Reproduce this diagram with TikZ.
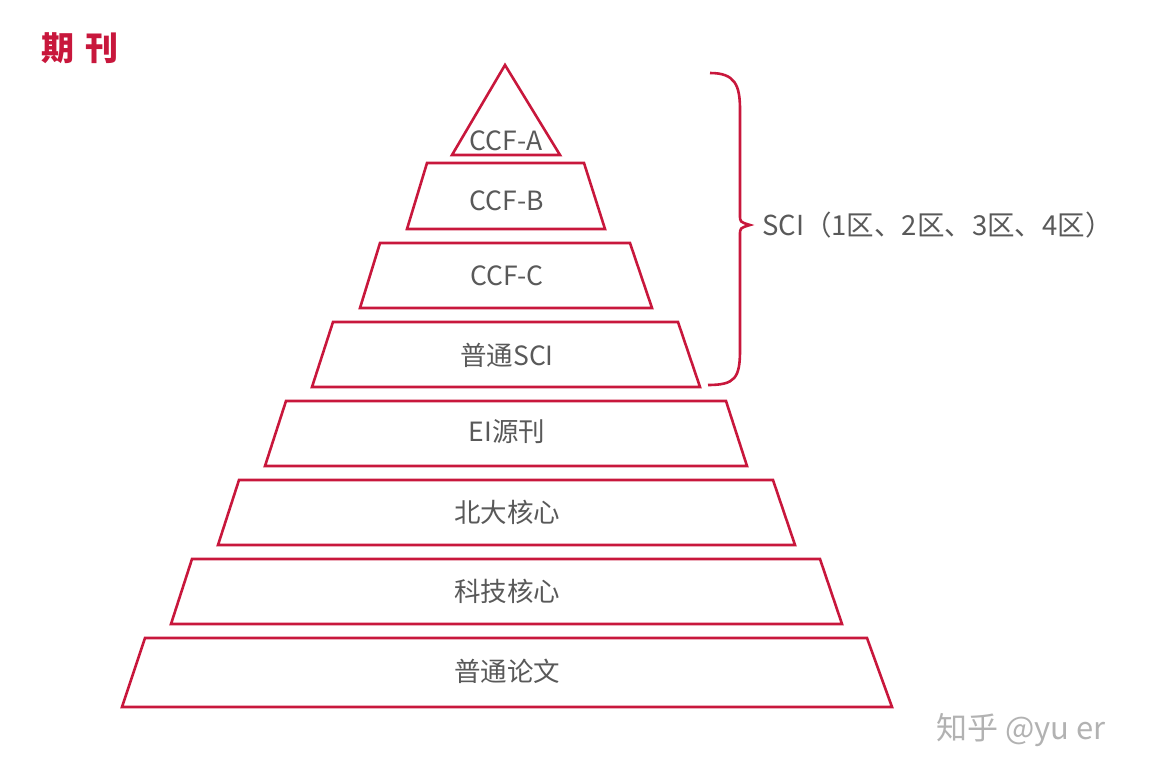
\documentclass[tikz,border=0pt]{standalone}
\usepackage{fontspec}
\setmainfont{Noto Sans CJK SC}
\definecolor{cr}{HTML}{C8173C}
\definecolor{tg}{HTML}{595959}
\begin{document}
\begin{tikzpicture}[x=1pt,y=-1pt,
  lvl/.style={draw=cr,line width=2.6pt,line join=miter},
  lbl/.style={text=tg,font=\fontsize{26.5}{30}\selectfont,inner sep=0}]
\useasboundingbox (0,0) rectangle (1154,780);
\node[text=cr,font=\fontsize{33}{36}\selectfont\bfseries,anchor=west] (title) at (38,48) {期\,\,刊};
\draw[lvl] (505,65) -- (560,155) -- (452,155) -- cycle;
\node[lbl] (a) at (506,141) {CCF-A};
\draw[lvl] (427,163) -- (584,163) -- (605,229) -- (407,229) -- cycle;
\node[lbl] (b) at (507,201) {CCF-B};
\draw[lvl] (380,243) -- (630,243) -- (652,308) -- (360,308) -- cycle;
\node[lbl] (c) at (507,276) {CCF-C};
\draw[lvl] (333,322) -- (678,322) -- (700,387) -- (312,387) -- cycle;
\node[lbl] (d) at (507,355) {普通SCI};
\draw[lvl] (286,401) -- (726,401) -- (747,466) -- (265,466) -- cycle;
\node[lbl] (e) at (507,432) {EI源刊};
\draw[lvl] (239,480) -- (773,480) -- (795,545) -- (218,545) -- cycle;
\node[lbl] (f) at (507,512) {北大核心};
\draw[lvl] (192,559) -- (820,559) -- (842,624) -- (171,624) -- cycle;
\node[lbl] (g) at (507,591) {科技核心};
\draw[lvl] (145,638) -- (867,638) -- (892,707) -- (122,707) -- cycle;
\node[lbl] (h) at (507,671) {普通论文};
\draw[cr,line width=2.6pt] (710,73) .. controls (735,73) and (740,85) .. (740,110) -- (740,215)
  .. controls (740,222) .. (750,225) .. controls (740,228) .. (740,235) -- (740,350)
  .. controls (740,378) and (735,385) .. (708,385);
\node[lbl,anchor=west,font=\fontsize{27.5}{30}\selectfont] (sci) at (762,225) {SCI（1区、2区、3区、4区）};
\node[text=gray!60,font=\fontsize{31}{34}\selectfont,anchor=west] (wm) at (933,730) {知乎 @yu er};
\end{tikzpicture}
\end{document}
